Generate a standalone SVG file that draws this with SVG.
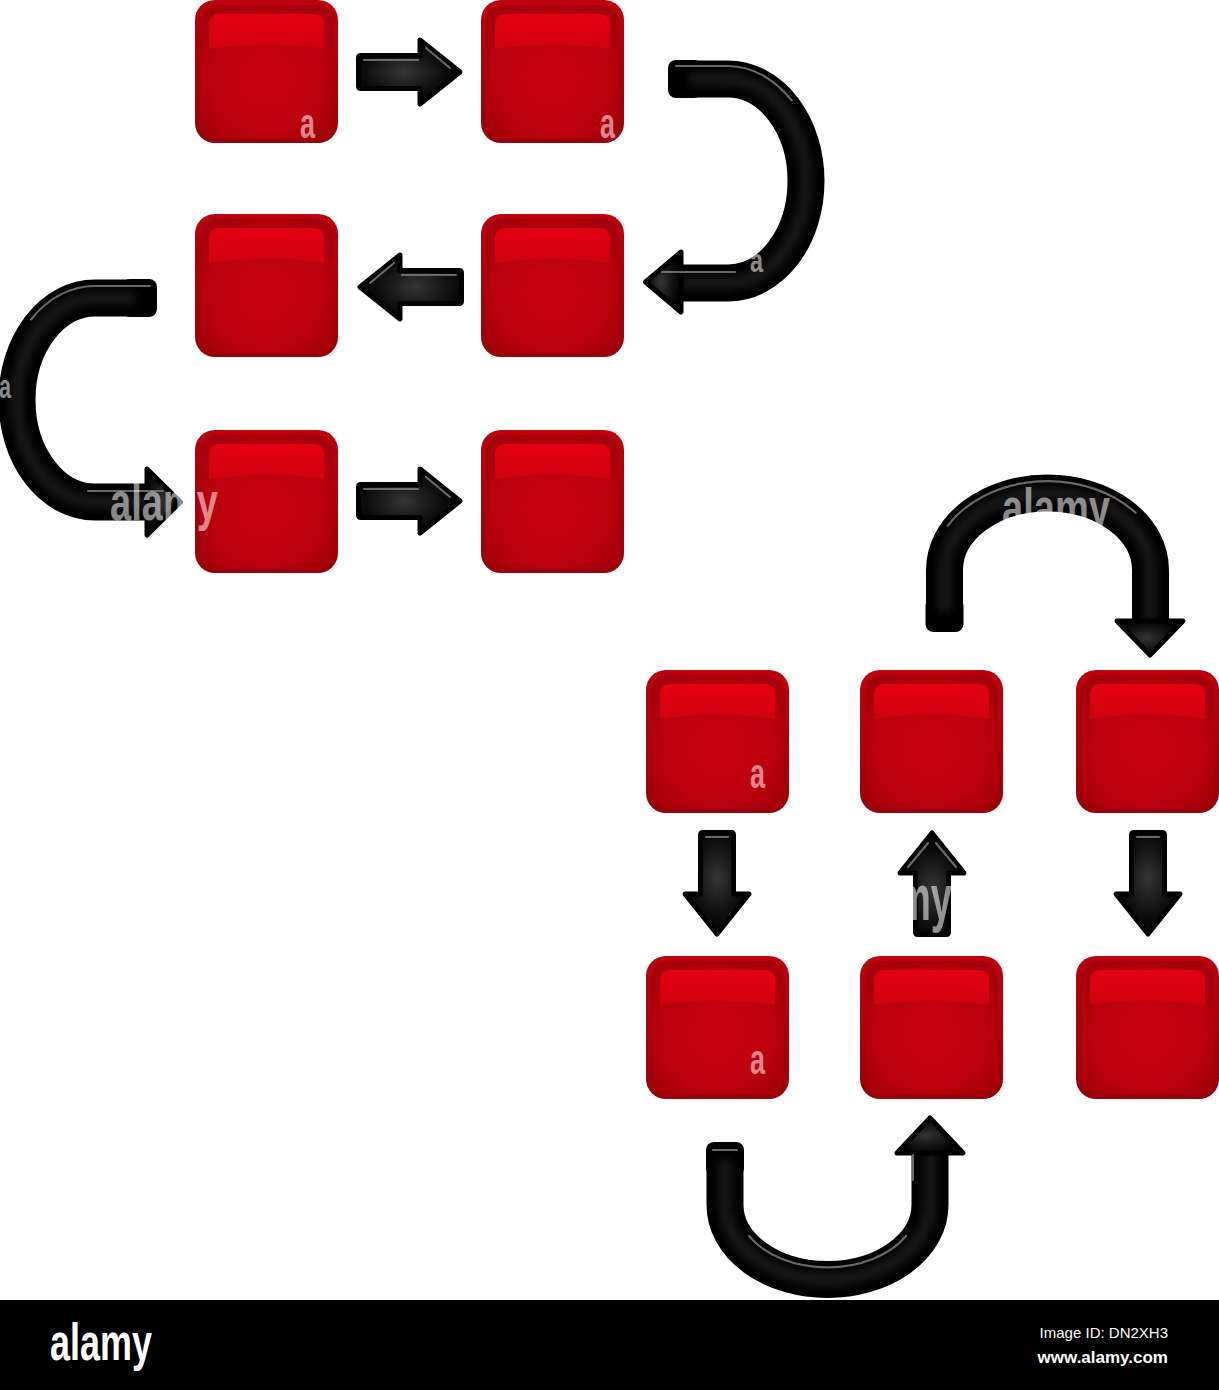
<svg xmlns="http://www.w3.org/2000/svg" xmlns:xlink="http://www.w3.org/1999/xlink" width="1219" height="1390" viewBox="0 0 1219 1390">
<style>
  .hl{fill:none;stroke:#7a7a7a;stroke-width:2.2;stroke-linecap:round;opacity:.85}
  .shaft{fill:none;stroke:#000;stroke-width:37;stroke-linecap:butt}
  .gloss{fill:none;stroke:#2c2c2c;stroke-width:14;stroke-linecap:butt;opacity:.55}
  .head{fill:url(#arrowGrad);stroke:#000;stroke-width:5;stroke-linejoin:round}
  .cap{fill:#000}
  .wm{fill:#fff;fill-opacity:.55;font-family:"Liberation Sans",Arial,sans-serif;font-weight:bold}
  .ft{fill:#fff;font-family:"Liberation Sans",Arial,sans-serif}
</style>
<defs>
  <linearGradient id="sqOuter" x1="0" y1="0" x2="0" y2="1">
    <stop offset="0" stop-color="#bd000d"/>
    <stop offset="1" stop-color="#98000a"/>
  </linearGradient>
  <radialGradient id="sqFace" cx="0.5" cy="0.55" r="0.6">
    <stop offset="0" stop-color="#c9000f"/>
    <stop offset="0.7" stop-color="#bb000d"/>
    <stop offset="1" stop-color="#a5000b"/>
  </radialGradient>
  <linearGradient id="sqBand" x1="0" y1="0" x2="0" y2="1">
    <stop offset="0" stop-color="#e30012"/>
    <stop offset="1" stop-color="#d0000f"/>
  </linearGradient>
  <radialGradient id="arrowGrad" cx="0.45" cy="0.5" r="0.55">
    <stop offset="0" stop-color="#353535"/>
    <stop offset="0.6" stop-color="#111"/>
    <stop offset="1" stop-color="#000"/>
  </radialGradient>
  <filter id="soft" x="-10%" y="-10%" width="120%" height="120%">
    <feGaussianBlur stdDeviation="4"/>
  </filter>
  <g id="sq">
    <rect x="0" y="0" width="143" height="143" rx="20" fill="url(#sqOuter)"/>
    <rect x="5" y="5" width="133" height="133" rx="16" fill="url(#sqFace)"/>
    <path d="M14,25 Q14,14 25,14 H118 Q129,14 129,25 V49 Q71.5,40 14,49 Z" fill="url(#sqBand)"/>
  </g>
  <path id="sArrow" class="head" d="M-49,-16.5 H10 V-32 L50,0 L10,32 V16.5 H-49 Q-51.5,16.5 -51.5,14 V-14 Q-51.5,-16.5 -49,-16.5 Z"/>
</defs>

<rect x="0" y="0" width="1219" height="1390" fill="#fff"/>

<!-- nodes -->
<g id="n1" transform="translate(195,0)"><use href="#sq"/></g>
<g id="n2" transform="translate(481,0)"><use href="#sq"/></g>
<g id="n3" transform="translate(195,214)"><use href="#sq"/></g>
<g id="n4" transform="translate(481,214)"><use href="#sq"/></g>
<g id="n5" transform="translate(195,430)"><use href="#sq"/></g>
<g id="n6" transform="translate(481,430)"><use href="#sq"/></g>
<g id="n7" transform="translate(646,670)"><use href="#sq"/></g>
<g id="n8" transform="translate(860,670)"><use href="#sq"/></g>
<g id="n9" transform="translate(1076,670)"><use href="#sq"/></g>
<g id="n10" transform="translate(646,956)"><use href="#sq"/></g>
<g id="n11" transform="translate(860,956)"><use href="#sq"/></g>
<g id="n12" transform="translate(1076,956)"><use href="#sq"/></g>

<!-- connectors -->
<g id="connectors">
  <!-- straight arrows -->
  <g transform="translate(410,72)"><use href="#sArrow"/><path class="hl" d="M-46,-12 H8 M16,-24 L40,-4"/></g>
  <g transform="translate(410,287) scale(-1,1)"><use href="#sArrow"/><path class="hl" d="M-46,-12 H8 M16,-24 L40,-4"/></g>
  <g transform="translate(410,501)"><use href="#sArrow"/><path class="hl" d="M-46,-12 H8 M16,-24 L40,-4"/></g>
  <g transform="translate(717,884) rotate(90)"><use href="#sArrow"/><path class="hl" d="M-47,-11 V11"/></g>
  <g transform="translate(932,883) rotate(-90)"><use href="#sArrow"/><path class="hl" d="M16,-24 L40,-4 M16,24 L40,4"/></g>
  <g transform="translate(1148,884) rotate(90)"><use href="#sArrow"/><path class="hl" d="M-47,-11 V11"/></g>

  <!-- C1: top right curve -->
  <g>
    <rect class="cap" x="668" y="60" width="34" height="38" rx="8"/>
    <path class="shaft" d="M690,79 H728 A78 102 0 0 1 728,283 H676"/>
    <path class="gloss" filter="url(#soft)" d="M690,79 H728 A78 102 0 0 1 728,283 H680"/>
    <path class="head" d="M681,252 L645.5,282 L681,312 Z"/>
    <path class="hl" d="M676,66 H728 A90 114 0 0 1 791.6,100.4"/>
    <path class="hl" d="M662,272 L676,272 H735"/>
  </g>

  <!-- C2: top left curve -->
  <g>
    <rect class="cap" x="122" y="279" width="35" height="38" rx="8"/>
    <path class="shaft" d="M135,298 H95 A78 102 0 0 0 95,502 H150"/>
    <path class="gloss" filter="url(#soft)" d="M135,298 H95 A78 102 0 0 0 95,502 H146"/>
    <path class="head" d="M147,469 L180.5,502 L147,535 Z"/>
    <path class="hl" d="M150,286 H95 A90 114 0 0 0 31,319.5"/>
    <path class="hl" d="M88,491 H150 L163,491"/>
  </g>

  <!-- C3: arch -->
  <g>
    <rect class="cap" x="925.5" y="598" width="38" height="34" rx="8"/>
    <path class="shaft" d="M944.5,612 V570 A103 77 0 0 1 1150.5,570 V626"/>
    <path class="gloss" filter="url(#soft)" d="M944.5,612 V570 A103 77 0 0 1 1150.5,570 V622"/>
    <path class="head" d="M1117,621 L1150,655 L1183,621 Z"/>
    <path class="hl" d="M948,525.5 A115 89 0 0 1 1135.6,512.8"/>
  </g>

  <!-- C4: U -->
  <g>
    <rect class="cap" x="706" y="1142" width="38" height="34" rx="8"/>
    <path class="shaft" d="M725,1160 V1205 A102.5 74.5 0 0 0 930,1205 V1149"/>
    <path class="gloss" filter="url(#soft)" d="M725,1160 V1205 A102.5 74.5 0 0 0 930,1205 V1153"/>
    <path class="head" d="M897,1153 L930,1118 L963,1153 Z"/>
    <path class="hl" d="M749,1236 A90.5 62.5 0 0 0 906,1236"/>
    <path class="hl" d="M713,1150 H737"/>
    <path class="hl" d="M913,1155 V1180"/>
  </g>
</g>

<!-- watermark overlay (visible only on coloured shapes) -->
<g id="watermark">
  <text class="wm" x="300" y="138" font-size="43" textLength="15" lengthAdjust="spacingAndGlyphs">a</text>
  <text class="wm" x="600" y="138" font-size="43" textLength="15" lengthAdjust="spacingAndGlyphs">a</text>
  <text class="wm" x="750" y="788" font-size="43" textLength="15" lengthAdjust="spacingAndGlyphs">a</text>
  <text class="wm" x="750" y="1074" font-size="43" textLength="15" lengthAdjust="spacingAndGlyphs">a</text>
  <text class="wm" x="-1" y="398" font-size="34" textLength="12" lengthAdjust="spacingAndGlyphs">a</text>
  <text class="wm" x="750" y="272" font-size="34" textLength="13" lengthAdjust="spacingAndGlyphs">a</text>
  <text class="wm" x="110" y="520" font-size="54" textLength="108" lengthAdjust="spacingAndGlyphs">alamy</text>
  <text class="wm" x="1002" y="526" font-size="54" textLength="108" lengthAdjust="spacingAndGlyphs">alamy</text>
  <text class="wm" x="844" y="920" font-size="64" textLength="108" lengthAdjust="spacingAndGlyphs">alamy</text>
</g>

<!-- footer bar -->
<g id="footer">
  <rect x="0" y="1300" width="1219" height="90" fill="#000"/>
  <text class="ft" x="50" y="1360" font-size="52" font-weight="bold" textLength="102" lengthAdjust="spacingAndGlyphs">alamy</text>
  <text class="ft" x="1168" y="1338" font-size="15" text-anchor="end" fill="#e6e6e6">Image ID: DN2XH3</text>
  <text class="ft" x="1168" y="1363" font-size="17" font-weight="bold" text-anchor="end">www.alamy.com</text>
</g>
</svg>
